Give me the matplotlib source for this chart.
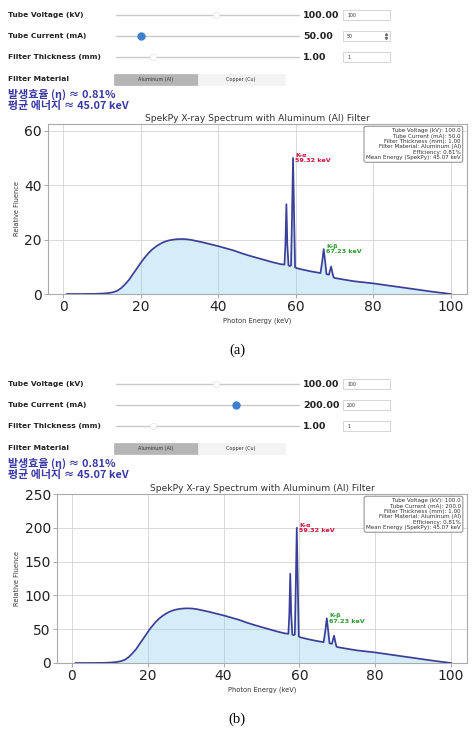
import matplotlib
matplotlib.use("Agg")
import matplotlib.pyplot as plt
import numpy as np
from matplotlib.patches import Rectangle

# spectrum, 50 mA
energy = [1, 5, 8, 10, 11, 12, 13, 14, 15, 16, 17, 18, 19, 20, 21, 22, 23, 24,
          25, 26, 27, 28, 29, 30, 31, 32, 33, 34, 36, 38, 40, 42, 44, 46, 48,
          50, 52, 54, 56, 57.1, 57.35, 57.6, 57.85, 58.15, 58.5, 58.8, 59.05,
          59.32, 59.6, 59.85, 60.3, 62, 64, 66.4, 66.85, 67.23, 67.6, 67.95,
          68.6, 68.85, 69.15, 69.45, 69.75, 70, 72, 75, 80, 85, 90, 95, 100]
fluence = [0.0, 0.0, 0.05, 0.15, 0.25, 0.4, 0.7, 1.2, 2.2, 3.6, 5.2, 7.3, 9.3,
           11.4, 13.3, 15.0, 16.4, 17.5, 18.4, 19.1, 19.6, 19.9, 20.1, 20.2,
           20.2, 20.1, 19.9, 19.6, 19.0, 18.3, 17.6, 16.8, 16.0, 15.0, 14.1,
           13.3, 12.5, 11.7, 11.0, 10.8, 18.0, 33.0, 18.0, 10.5, 10.3, 10.5,
           28.0, 50.0, 28.0, 9.8, 9.5, 8.9, 8.3, 7.7, 12.0, 16.5, 12.0, 7.3,
           7.1, 8.6, 10.1, 8.0, 6.2, 5.9, 5.4, 4.7, 3.9, 2.9, 1.9, 0.9, 0.0]
base_current = 50

panel_labels = ["(a)", "(b)"]
tube_voltage = [100, 100]
tube_current = [50, 200]
filter_thickness = [1.00, 1.00]
filter_material = "Aluminum (Al)"
efficiency = 0.81
mean_energy = 45.07
ka_energy = 59.32
kb_energy = 67.23

voltage_range = (40, 150)
current_range = (10, 300)
thickness_range = (0, 5)

W, H = 474, 735
fig = plt.figure(figsize=(W / 100, H / 100), dpi=100)
bg = fig.add_axes([0, 0, 1, 1])
bg.set_xlim(0, W)
bg.set_ylim(H, 0)
bg.axis("off")

kr = ["Noto Sans CJK KR", "DejaVu Sans"]
txt_blue = "#3a3aa6"
line_col = "#3b3f98"


def slider_row(y, label, val, rng, valtxt, boxtxt, blue=False, spin=False):
    bg.text(8, y, label, fontsize=5.4, fontweight="bold", color="#222222",
            va="center", ha="left")
    bg.plot([116, 299], [y, y], color="#c9c9c9", lw=1.0, solid_capstyle="round")
    frac = (val - rng[0]) / (rng[1] - rng[0])
    kx = 116 + frac * 183
    if blue:
        bg.plot(kx, y, "o", ms=5.0, color="#3f7fcf", mec="#3f7fcf")
    else:
        bg.plot(kx, y, "o", ms=4.5, color="white", mec="#e2e2e2", mew=0.5)
    bg.text(303, y, valtxt, fontsize=6.8, fontweight="bold", color="#222222",
            va="center", ha="left")
    bg.add_patch(Rectangle((343, y - 5), 47, 10, facecolor="white",
                           edgecolor="#cfcfcf", lw=0.6))
    bg.text(347, y, boxtxt, fontsize=3.4, color="#333333", va="center")
    if spin:
        bg.plot(386, y - 1.6, marker="^", ms=1.4, color="#666666")
        bg.plot(386, y + 1.6, marker="v", ms=1.4, color="#666666")


axes_pos = [[48 / W, 1 - 294 / H, 419 / W, 170 / H],
            [57 / W, 1 - 663 / H, 410 / W, 169 / H]]

for i in range(2):
    off = 369 * i
    cur = tube_current[i]
    slider_row(15 + off, "Tube Voltage (kV)", tube_voltage[i], voltage_range,
               "%.2f" % tube_voltage[i], "%d" % tube_voltage[i])
    slider_row(36 + off, "Tube Current (mA)", cur, current_range,
               "%.2f" % cur, "%d" % cur, blue=True, spin=(i == 0))
    slider_row(57 + off, "Filter Thickness (mm)", filter_thickness[i],
               thickness_range, "%.2f" % filter_thickness[i],
               "%g" % filter_thickness[i])

    # filter material toggle
    my = 79 + off
    bg.text(8, my, "Filter Material", fontsize=5.4, fontweight="bold",
            color="#222222", va="center")
    bg.add_patch(Rectangle((114, my - 5.5), 84, 11, facecolor="#b5b5b5",
                           edgecolor="#b5b5b5", lw=0.5))
    bg.add_patch(Rectangle((198, my - 5.5), 87, 11, facecolor="#f3f3f3",
                           edgecolor="#f3f3f3", lw=0.5))
    bg.text(156, my, "Aluminum (Al)", fontsize=3.5, color="#333333",
            ha="center", va="center")
    bg.text(241, my, "Copper (Cu)", fontsize=3.5, color="#333333",
            ha="center", va="center")

    bg.text(8, 94 + off, "발생효율 (η) ≈ %.2f%%" % efficiency, fontsize=7.9,
            fontweight="bold", color=txt_blue, va="center", family=kr)
    bg.text(8, 105.5 + off, "평균 에너지 ≈ %.2f keV" % mean_energy, fontsize=7.9,
            fontweight="bold", color=txt_blue, va="center", family=kr)

    bg.text(237, 350 + off, panel_labels[i], fontsize=10.5,
            family="Liberation Serif", ha="center", va="center")

    # spectrum
    scale = cur / base_current
    y = np.array(fluence) * scale
    ax = fig.add_axes(axes_pos[i])
    ax.plot(energy, y, color=line_col, lw=1.25, zorder=3)
    ax.fill_between(energy, y, color="skyblue", alpha=0.35, lw=0, zorder=2)
    ymax = max(y)
    ax.set_xlim(-3.9, 104.2)
    ax.set_ylim(0, ymax * 1.25)
    ax.set_xticks([0, 20, 40, 60, 80, 100])
    ax.grid(True, color="#d3d3d3", lw=0.6, zorder=0)
    ax.set_axisbelow(True)
    for s in ax.spines.values():
        s.set_color("#aaaaaa")
        s.set_linewidth(0.8)
    ax.tick_params(labelsize=10, colors="#222222", length=3, width=0.6,
                   color="#999999", pad=1.5)
    ax.set_xlabel("Photon Energy (keV)", fontsize=4.8, labelpad=2, color="#333333")
    ax.set_ylabel("Relative Fluence", fontsize=4.8, labelpad=3, color="#333333")
    ax.set_title("SpekPy X-ray Spectrum with %s Filter" % filter_material,
                 fontsize=6.6, pad=2.5, color="#333333")

    ka_y = np.interp(ka_energy, energy, y)
    kb_y = np.interp(kb_energy, energy, y)
    ax.text(ka_energy + 0.6, ka_y, "K-α\n%.2f keV" % ka_energy, fontsize=4.6,
            fontweight="bold", color="#d0103a", va="center", ha="left",
            linespacing=1.1)
    ax.text(kb_energy + 0.7, kb_y, "K-β\n%.2f keV" % kb_energy, fontsize=4.6,
            fontweight="bold", color="#2e9a2e", va="center", ha="left",
            linespacing=1.1)

    info = ("Tube Voltage (kV): %.1f\nTube Current (mA): %.1f\n"
            "Filter Thickness (mm): %.2f\nFilter Material: %s\n"
            "Efficiency: %.2f%%\nMean Energy (SpekPy): %.2f keV") % (
        tube_voltage[i], cur, filter_thickness[i], filter_material,
        efficiency, mean_energy)
    ax.text(0.985, 0.975, info, transform=ax.transAxes, fontsize=4.1,
            ha="right", va="top", color="#333333", linespacing=1.1,
            bbox=dict(boxstyle="round,pad=0.35", fc="white", ec="#888888",
                      lw=0.7), zorder=5)

fig.savefig("out.png", dpi=100, facecolor="white")
